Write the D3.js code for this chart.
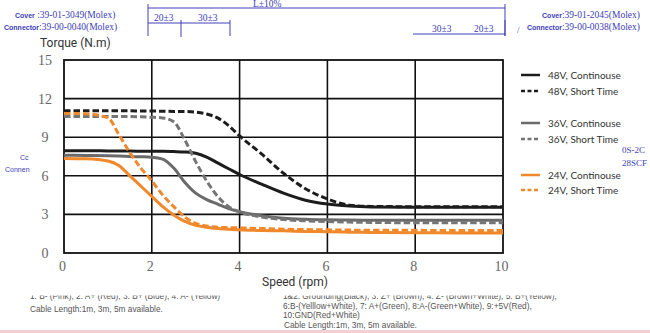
<!DOCTYPE html>
<html><head><meta charset="utf-8">
<script src="https://cdn.jsdelivr.net/npm/d3@7"></script>
<style>html,body{margin:0;padding:0;background:#fff;}svg{display:block;}</style>
</head><body>
<svg id="c" width="650" height="333"></svg>
<script>
const speeds = [0,0.5,1,1.25,1.5,1.75,2,2.25,2.5,2.75,3,3.25,3.5,3.75,4,4.5,5,5.5,6,6.5,7,8,9,10];
const v48Cont  = [7.95,7.95,7.93,7.92,7.92,7.91,7.9,7.9,7.88,7.85,7.75,7.45,7.0,6.55,6.1,5.35,4.65,4.1,3.8,3.65,3.58,3.55,3.55,3.55];
const v48Short = [11.05,11.05,11.05,11.05,11.05,11.04,11.03,11.02,11.0,11.0,10.95,10.8,10.5,9.9,9.1,7.7,6.2,5.0,4.2,3.72,3.62,3.6,3.6,3.6];
const v36Cont  = [7.6,7.58,7.55,7.53,7.5,7.48,7.45,7.3,6.6,5.5,4.65,4.15,3.8,3.45,3.2,2.9,2.7,2.62,2.58,2.56,2.55,2.55,2.55,2.55];
const v36Short = [10.6,10.6,10.6,10.6,10.6,10.58,10.55,10.5,10.2,8.8,7.1,5.6,4.4,3.6,3.2,2.8,2.6,2.5,2.45,2.4,2.38,2.35,2.35,2.35];
const v24Cont  = [7.35,7.32,7.15,6.8,6.0,5.2,4.4,3.6,2.95,2.45,2.15,2.0,1.9,1.85,1.8,1.75,1.72,1.68,1.65,1.62,1.6,1.58,1.56,1.55];
const v24Short = [10.85,10.82,10.5,9.2,7.8,6.6,5.6,4.5,3.6,2.8,2.3,2.1,2.0,1.97,1.95,1.9,1.85,1.82,1.8,1.78,1.77,1.76,1.75,1.75];
const seriesNames = ["48V, Continouse","48V, Short  Time","36V, Continouse","36V, Short  Time","24V, Continouse","24V, Short  Time"];
const xTicks = [0,2,4,6,8,10];
const yTicks = [0,3,6,9,12,15];

const series = [
  {name: seriesNames[0], values: v48Cont,  color: "#1c1c1c", dash: null},
  {name: seriesNames[1], values: v48Short, color: "#1c1c1c", dash: "6.5,3"},
  {name: seriesNames[2], values: v36Cont,  color: "#6a6a6a", dash: null},
  {name: seriesNames[3], values: v36Short, color: "#757575", dash: "6.5,3"},
  {name: seriesNames[4], values: v24Cont,  color: "#f0882c", dash: null},
  {name: seriesNames[5], values: v24Short, color: "#f0882c", dash: "6.5,3"}
];

const svg = d3.select("#c");
const x = d3.scaleLinear().domain([0,10]).range([64,503]);
const y = d3.scaleLinear().domain([0,15]).range([253,60]);

// grid
const g = svg.append("g");
g.selectAll("line.gx").data(xTicks.slice(1,-1)).join("line")
  .attr("x1",d=>x(d)).attr("x2",d=>x(d)).attr("y1",y(0)).attr("y2",y(15))
  .attr("stroke","#111").attr("stroke-width",1.6);
g.selectAll("line.gy").data(yTicks.slice(1,-1)).join("line")
  .attr("x1",x(0)).attr("x2",x(10)).attr("y1",d=>y(d)).attr("y2",d=>y(d))
  .attr("stroke","#111").attr("stroke-width",1.6);
g.append("rect").attr("x",x(0)).attr("y",y(15)).attr("width",x(10)-x(0)).attr("height",y(0)-y(15))
  .attr("fill","none").attr("stroke","#111").attr("stroke-width",1.8);

// axes labels
const xAxis = d3.axisBottom(x).tickValues(xTicks).tickSize(0).tickPadding(8);
const xa = svg.append("g").attr("transform",`translate(0,${y(0)})`).call(xAxis);
xa.select(".domain").remove();
xa.selectAll("text").attr("font-family","Liberation Serif, serif").attr("font-size",14).attr("fill","#666").attr("dx",-2);
const yAxis = d3.axisLeft(y).tickValues(yTicks).tickSize(0).tickPadding(16);
const ya = svg.append("g").attr("transform",`translate(${x(0)},0)`).call(yAxis);
ya.select(".domain").remove();
ya.selectAll("text").attr("font-family","Liberation Serif, serif").attr("font-size",14).attr("fill","#666").attr("text-anchor","middle").attr("dx",-3);

svg.append("text").attr("x",40).attr("y",47).attr("font-family","Roboto, sans-serif").attr("font-size",12).attr("fill","#333").text("Torque (N.m)");
svg.append("text").attr("x",295).attr("y",286).attr("text-anchor","middle").attr("font-family","Roboto, sans-serif").attr("font-size",12).attr("fill","#333").text("Speed (rpm)");

// lines
const line = d3.line().x((d,i)=>x(speeds[i])).y(d=>y(d)).curve(d3.curveMonotoneX);
series.forEach(s=>{
  svg.append("path").attr("d",line(s.values)).attr("fill","none")
    .attr("stroke",s.color).attr("stroke-width",3).attr("stroke-dasharray",s.dash);
});

// legend
const legY = [75,91,123,139,175,190];
series.forEach((s,i)=>{
  svg.append("line").attr("x1",521).attr("x2",540).attr("y1",legY[i]).attr("y2",legY[i])
    .attr("stroke",s.color).attr("stroke-width",2.5).attr("stroke-dasharray",s.dash?"4,2.5":null);
  svg.append("text").attr("x",548).attr("y",legY[i]+4).attr("font-family","Lato, sans-serif").attr("font-size",10).attr("fill","#333").text(s.name);
});

// overlay annotations (blue)
const blue = "#4040b8";
function ann(xp, yp, small, rest, anchor){
  const t = svg.append("text").attr("x",xp).attr("y",yp).attr("fill",blue).attr("text-anchor",anchor||"start");
  t.append("tspan").attr("font-family","Liberation Sans, sans-serif").attr("font-weight","bold").attr("font-size",7).text(small);
  t.append("tspan").attr("font-family","Liberation Serif, serif").attr("font-size",9.5).text(rest);
}
ann(15,18,"Cover"," :39-01-3049(Molex)");
ann(4,30,"Connector",":39-00-0040(Molex)");
ann(640,18,"Cover",":39-01-2045(Molex)","end");
ann(640,30,"Connector",":39-00-0038(Molex)","end");
svg.append("text").attr("x",517).attr("y",33).attr("fill",blue).attr("font-size",9).attr("font-family","Liberation Serif, serif").text("/");
svg.append("text").attr("x",20).attr("y",160).attr("fill",blue).attr("font-family","Liberation Sans, sans-serif").attr("font-size",7).text("Cc");
svg.append("text").attr("x",5).attr("y",172).attr("fill",blue).attr("font-family","Liberation Sans, sans-serif").attr("font-size",7).text("Connen");
svg.append("text").attr("x",622).attr("y",153).attr("fill",blue).attr("font-family","Liberation Serif, serif").attr("font-size",9).text("0S-2C");
svg.append("text").attr("x",622).attr("y",166).attr("fill",blue).attr("font-family","Liberation Serif, serif").attr("font-size",9).text("28SCF");

// dimension lines
const dim = svg.append("g").attr("stroke",blue).attr("stroke-width",1);
[[148,4,36],[505,4,36],[181,20,37],[230,20,36],[505,20,36]].forEach(v=>dim.append("line").attr("x1",v[0]).attr("x2",v[0]).attr("y1",v[1]).attr("y2",v[2]));
[[148,505,8],[148,230,23],[413,505,34]].forEach(h=>dim.append("line").attr("x1",h[0]).attr("x2",h[1]).attr("y1",h[2]).attr("y2",h[2]));
function dtxt(xp,yp,t){svg.append("text").attr("x",xp).attr("y",yp).attr("fill",blue).attr("font-family","Liberation Serif, serif").attr("font-size",9.5).text(t);}
dtxt(253,7,"L±10%"); dtxt(154,21,"20±3"); dtxt(198,21,"30±3"); dtxt(432,32,"30±3"); dtxt(474,32,"20±3");

// bottom texts
const gray = "#555";
function btxt(xp,yp,t){svg.append("text").attr("x",xp).attr("y",yp).attr("fill",gray).attr("font-family","Liberation Sans, sans-serif").attr("font-size",8.3).text(t);}
svg.append("defs").append("clipPath").attr("id","cut").append("rect").attr("x",0).attr("y",295.5).attr("width",650).attr("height",8);
svg.append("text").attr("clip-path","url(#cut)").attr("x",30).attr("y",299).attr("fill",gray).attr("font-family","Liberation Sans, sans-serif").attr("font-size",8.3).text("1. B- (Pink), 2. A+ (Red), 3. B+ (Blue), 4. A- (Yellow)");
btxt(30,312,"Cable Length:1m, 3m, 5m available.");
svg.append("text").attr("clip-path","url(#cut)").attr("x",283).attr("y",299).attr("fill",gray).attr("font-family","Liberation Sans, sans-serif").attr("font-size",8.3).text("1&2: Grounding(Black), 3: Z+ (Brown), 4: Z- (Brown+White), 5: B+(Yellow),");
btxt(283,309,"6:B-(Yelllow+White), 7: A+(Green), 8:A-(Green+White), 9:+5V(Red),");
btxt(283,318,"10:GND(Red+White)");
btxt(284,328,"Cable Length:1m, 3m, 5m available.");
svg.append("rect").attr("x",0).attr("y",330).attr("width",650).attr("height",3).attr("fill","#f3d0d0");
</script>
</body></html>
